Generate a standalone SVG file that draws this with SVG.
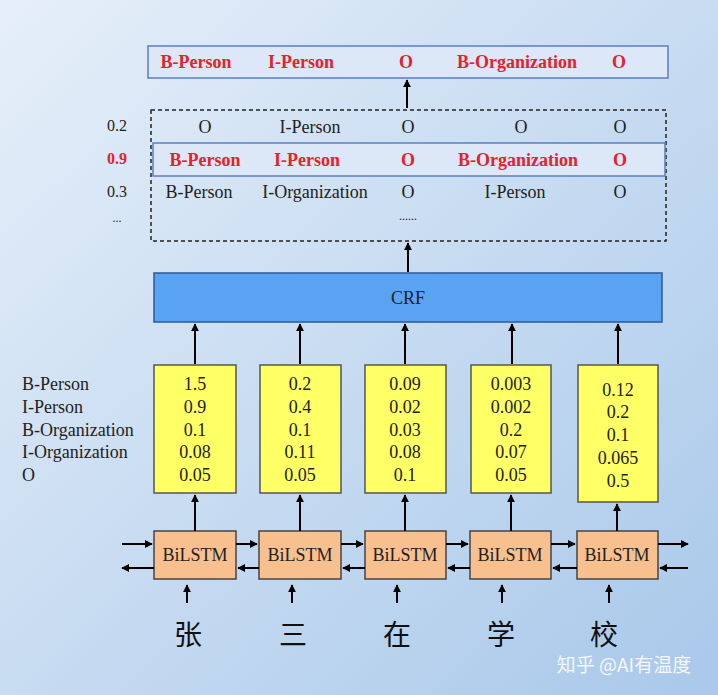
<svg xmlns="http://www.w3.org/2000/svg" width="718" height="695" viewBox="0 0 718 695">
<defs>
<linearGradient id="bg" x1="0" y1="0" x2="1" y2="1">
<stop offset="0" stop-color="#e6eff9"/><stop offset="1" stop-color="#a9c8ea"/>
</linearGradient>
<marker id="a" viewBox="0 0 10 10" refX="9" refY="5" markerWidth="4" markerHeight="4" orient="auto"><path d="M0,0L10,5L0,10z" fill="#000"/></marker>
<style>
text{font-family:"Liberation Serif",serif;font-size:18px;text-anchor:middle;fill:#222}
.r{fill:#e8202a;font-weight:bold;font-size:18px}
.l{text-anchor:start}
.c line{stroke:#000;stroke-width:2;marker-end:url(#a)}
.y{fill:#ffff66;stroke:#555;stroke-width:1.5}
.b{fill:#f8c08e;stroke:#444;stroke-width:1.5}
.zh{font-family:"Noto Sans CJK SC",sans-serif;font-size:28px;fill:#111}
</style>
</defs>
<rect width="718" height="695" fill="url(#bg)"/>
<g id="result"><rect x="148" y="46" width="520" height="32" fill="#dce8f8" stroke="#5b7fbf" stroke-width="1.5"/>
<text class="r" x="196" y="68">B-Person</text><text class="r" x="301" y="68">I-Person</text><text class="r" x="406" y="68">O</text><text class="r" x="517" y="68">B-Organization</text><text class="r" x="619" y="68">O</text></g>
<g id="candidates"><rect x="151" y="110" width="515" height="131" fill="none" stroke="#222" stroke-width="1.5" stroke-dasharray="4,3"/>
<rect x="153" y="143" width="512" height="33" fill="#dce8f8" stroke="#5b7fbf" stroke-width="1.5"/>
<text x="117" y="131" style="font-size:16px">0.2</text><text class="r" x="117" y="164" style="font-size:16px">0.9</text><text x="117" y="197" style="font-size:16px">0.3</text><text x="117" y="222" style="font-size:12px">...</text>
<text x="205" y="133">O</text><text x="310" y="133">I-Person</text><text x="408" y="133">O</text><text x="521" y="133">O</text><text x="620" y="133">O</text>
<text class="r" x="205" y="166">B-Person</text><text class="r" x="307" y="166">I-Person</text><text class="r" x="408" y="166">O</text><text class="r" x="518" y="166">B-Organization</text><text class="r" x="620" y="166">O</text>
<text x="199" y="198">B-Person</text><text x="315" y="198">I-Organization</text><text x="408" y="198">O</text><text x="515" y="198">I-Person</text><text x="620" y="198">O</text>
<text x="408" y="220" style="font-size:12px">......</text></g>
<g id="crf"><rect x="154" y="273" width="508" height="49" fill="#5aa2f2" stroke="#2b5a9a" stroke-width="1.5"/><text x="408" y="304">CRF</text></g>
<g id="labels"><text class="l" x="22" y="390">B-Person</text><text class="l" x="22" y="413">I-Person</text><text class="l" x="22" y="436">B-Organization</text><text class="l" x="22" y="458">I-Organization</text><text class="l" x="22" y="481">O</text></g>
<g id="s1"><rect class="y" x="154" y="365" width="82" height="128"/><text x="195" y="390">1.5</text><text x="195" y="413">0.9</text><text x="195" y="436">0.1</text><text x="195" y="458">0.08</text><text x="195" y="481">0.05</text></g>
<g id="s2"><rect class="y" x="260" y="365" width="81" height="128"/><text x="300" y="390">0.2</text><text x="300" y="413">0.4</text><text x="300" y="436">0.1</text><text x="300" y="458">0.11</text><text x="300" y="481">0.05</text></g>
<g id="s3"><rect class="y" x="365" y="365" width="81" height="128"/><text x="405" y="390">0.09</text><text x="405" y="413">0.02</text><text x="405" y="436">0.03</text><text x="405" y="458">0.08</text><text x="405" y="481">0.1</text></g>
<g id="s4"><rect class="y" x="471" y="365" width="80" height="128"/><text x="511" y="390">0.003</text><text x="511" y="413">0.002</text><text x="511" y="436">0.2</text><text x="511" y="458">0.07</text><text x="511" y="481">0.05</text></g>
<g id="s5"><rect class="y" x="578" y="365" width="80" height="137"/><text x="618" y="396">0.12</text><text x="618" y="418">0.2</text><text x="618" y="441">0.1</text><text x="618" y="464">0.065</text><text x="618" y="487">0.5</text></g>
<g id="bilstm">
<rect class="b" x="154" y="531" width="82" height="48"/><text x="195" y="561">BiLSTM</text>
<rect class="b" x="259" y="531" width="82" height="48"/><text x="300" y="561">BiLSTM</text>
<rect class="b" x="365" y="531" width="81" height="48"/><text x="405" y="561">BiLSTM</text>
<rect class="b" x="470" y="531" width="81" height="48"/><text x="510" y="561">BiLSTM</text>
<rect class="b" x="577" y="531" width="81" height="48"/><text x="617" y="561">BiLSTM</text></g>
<g id="chars"><text class="zh" x="188" y="645">张</text><text class="zh" x="293" y="645">三</text><text class="zh" x="397" y="645">在</text><text class="zh" x="501" y="645">学</text><text class="zh" x="604" y="645">校</text></g>
<g class="c" id="connectors">
<line x1="407" y1="108" x2="407" y2="80"/><line x1="408" y1="272" x2="408" y2="243"/>
<line x1="195" y1="364" x2="195" y2="324"/><line x1="300" y1="364" x2="300" y2="324"/><line x1="405" y1="364" x2="405" y2="324"/><line x1="512" y1="364" x2="512" y2="324"/><line x1="618" y1="364" x2="618" y2="324"/>
<line x1="195" y1="531" x2="195" y2="495"/><line x1="300" y1="531" x2="300" y2="495"/><line x1="405" y1="531" x2="405" y2="495"/><line x1="511" y1="531" x2="511" y2="495"/><line x1="617" y1="531" x2="617" y2="504"/>
<line x1="187" y1="603" x2="187" y2="585"/><line x1="292" y1="603" x2="292" y2="585"/><line x1="397" y1="603" x2="397" y2="585"/><line x1="502" y1="603" x2="502" y2="585"/><line x1="609" y1="603" x2="609" y2="585"/>
<line x1="122" y1="544" x2="152" y2="544"/><line x1="236" y1="544" x2="257" y2="544"/><line x1="341" y1="544" x2="363" y2="544"/><line x1="446" y1="544" x2="468" y2="544"/><line x1="551" y1="544" x2="575" y2="544"/><line x1="658" y1="544" x2="688" y2="544"/>
<line x1="154" y1="568" x2="122" y2="568"/><line x1="259" y1="568" x2="238" y2="568"/><line x1="365" y1="568" x2="343" y2="568"/><line x1="470" y1="568" x2="448" y2="568"/><line x1="577" y1="568" x2="553" y2="568"/><line x1="688" y1="568" x2="660" y2="568"/>
</g>
<text x="624" y="672" style="font-family:'Noto Sans CJK SC',sans-serif;font-size:19px;fill:#f4f7fb">知乎 @AI有温度</text>
</svg>
